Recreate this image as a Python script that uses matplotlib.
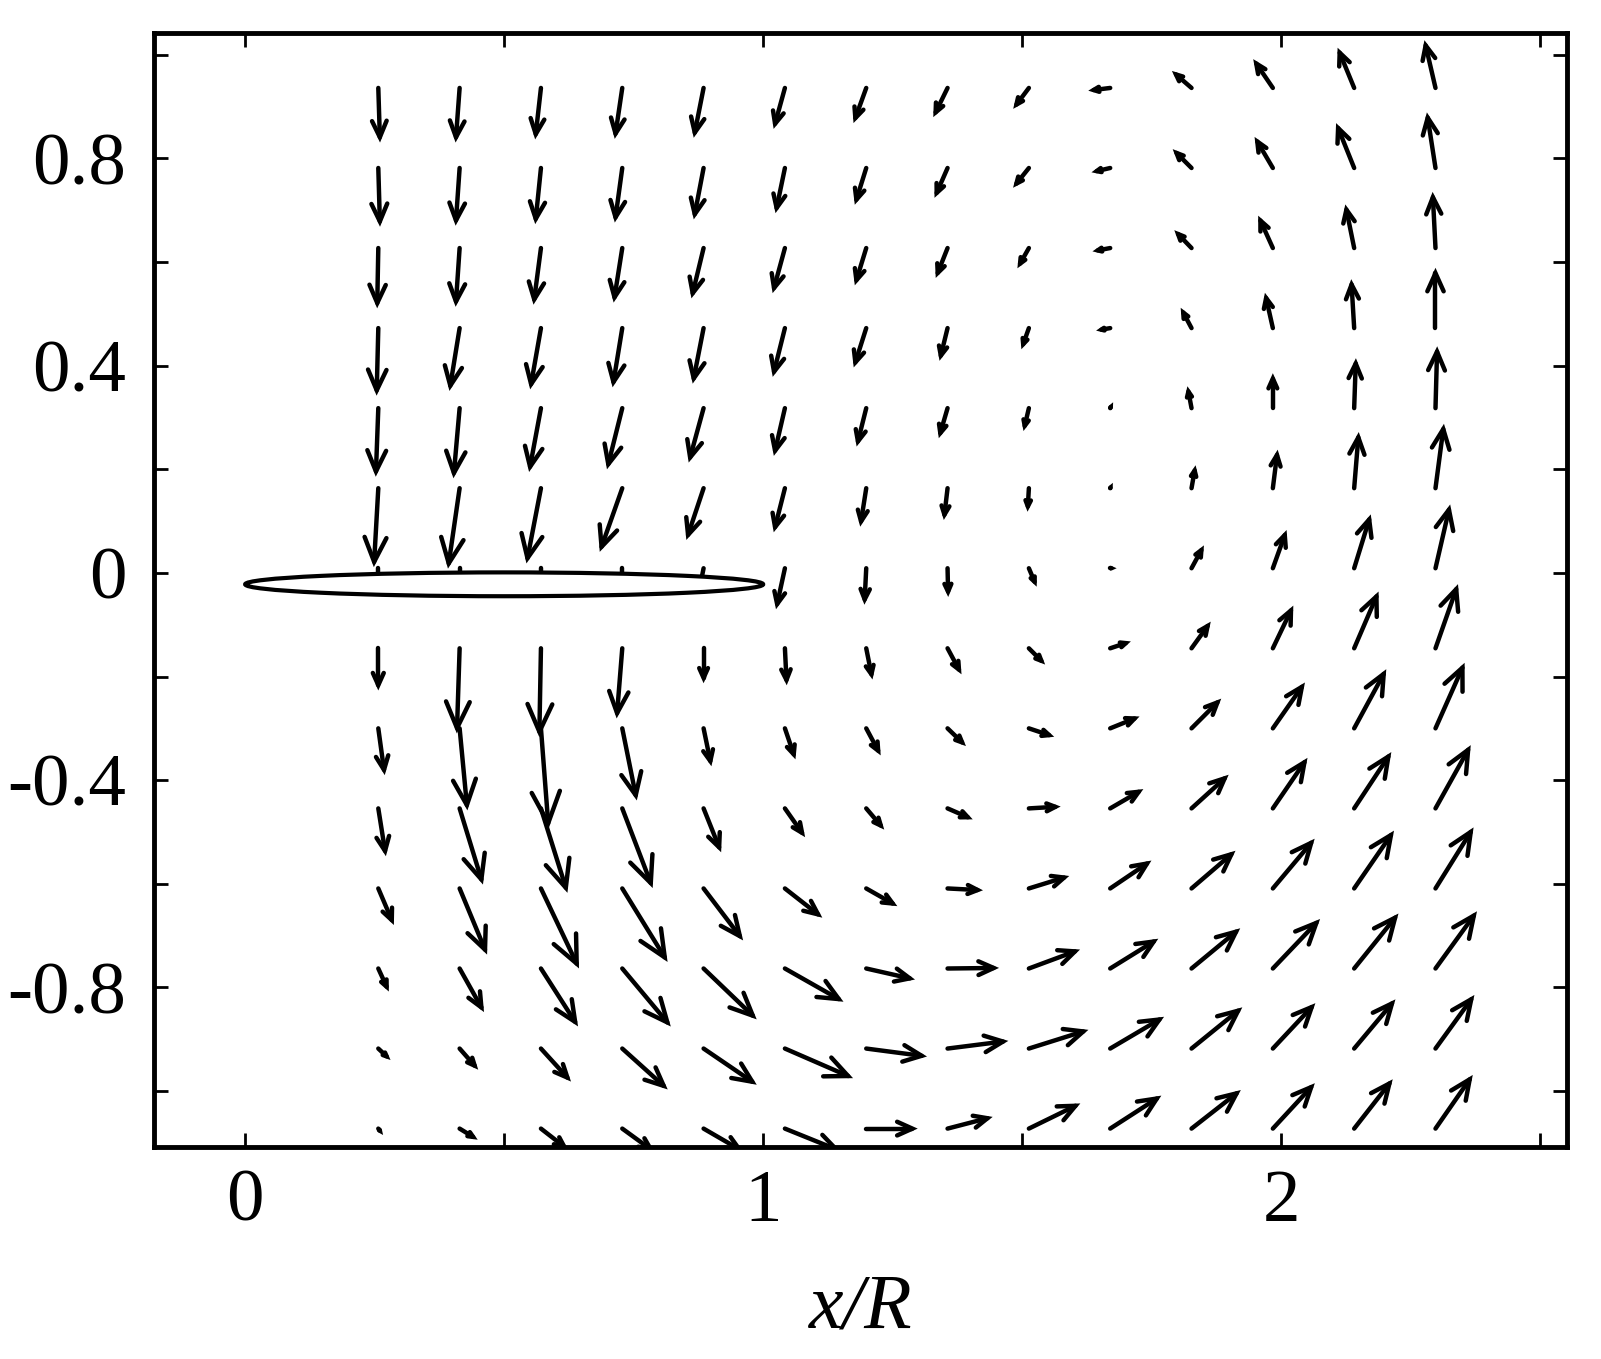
import numpy as np
import matplotlib
matplotlib.use("Agg")
import matplotlib.pyplot as plt
from matplotlib.collections import LineCollection
from matplotlib.patches import Ellipse

plt.rcParams["font.family"] = ["Liberation Serif", "DejaVu Serif"]

# grid of arrow tails (x/R, y/R)
x_grid = [0.257, 0.414, 0.571, 0.728, 0.885, 1.042, 1.199,
          1.356, 1.513, 1.670, 1.827, 1.984, 2.141, 2.298]
y_grid = [0.936, 0.7815, 0.627, 0.4725, 0.318, 0.1635, 0.009,
          -0.1455, -0.300, -0.4545, -0.609, -0.7635, -0.918, -1.0725]

# arrow components (rows top -> bottom)
u_rows = [
    [0.003, -0.007, -0.010, -0.013, -0.017, -0.019, -0.021, -0.023, -0.024, -0.032, -0.030, -0.032, -0.028, -0.019],
    [0.003, -0.007, -0.010, -0.013, -0.017, -0.016, -0.019, -0.021, -0.024, -0.026, -0.029, -0.030, -0.031, -0.015],
    [-0.002, -0.007, -0.013, -0.015, -0.021, -0.021, -0.019, -0.019, -0.017, -0.024, -0.026, -0.024, -0.015, -0.005],
    [-0.003, -0.018, -0.019, -0.017, -0.019, -0.021, -0.021, -0.013, -0.011, -0.017, -0.016, -0.013, -0.005, 0.000],
    [-0.0045, -0.011, -0.021, -0.027, -0.026, -0.019, -0.016, -0.014, -0.008, 0.001, -0.006, 0.000, 0.003, 0.003],
    [-0.008, -0.021, -0.026, -0.040, -0.030, -0.019, -0.010, -0.006, -0.002, 0.0005, 0.006, 0.008, 0.008, 0.015],
    [0.000, 0.000, 0.000, 0.000, -0.006, -0.015, -0.003, 0.001, 0.011, 0.002, 0.019, 0.023, 0.029, 0.026],
    [0.000, -0.005, -0.003, -0.010, 0.000, 0.003, 0.010, 0.022, 0.024, 0.030, 0.031, 0.035, 0.043, 0.040],
    [0.011, 0.014, 0.014, 0.026, 0.013, 0.017, 0.023, 0.028, 0.039, 0.047, 0.050, 0.056, 0.057, 0.052],
    [0.013, 0.042, 0.048, 0.055, 0.030, 0.033, 0.028, 0.039, 0.051, 0.055, 0.064, 0.061, 0.066, 0.063],
    [0.026, 0.049, 0.069, 0.082, 0.070, 0.064, 0.051, 0.058, 0.068, 0.071, 0.077, 0.074, 0.071, 0.068],
    [0.016, 0.042, 0.066, 0.087, 0.095, 0.104, 0.084, 0.089, 0.089, 0.084, 0.086, 0.084, 0.079, 0.074],
    [0.016, 0.029, 0.051, 0.080, 0.094, 0.122, 0.107, 0.107, 0.105, 0.095, 0.090, 0.075, 0.073, 0.069],
    [0.003, 0.026, 0.045, 0.055, 0.069, 0.099, 0.089, 0.077, 0.090, 0.090, 0.087, 0.074, 0.068, 0.066],
]
v_rows = [
    [-0.095, -0.095, -0.089, -0.088, -0.086, -0.069, -0.058, -0.047, -0.032, -0.004, 0.026, 0.047, 0.068, 0.082],
    [-0.103, -0.101, -0.098, -0.095, -0.089, -0.077, -0.061, -0.048, -0.030, -0.006, 0.029, 0.051, 0.077, 0.097],
    [-0.106, -0.103, -0.099, -0.095, -0.087, -0.077, -0.062, -0.048, -0.030, -0.0045, 0.027, 0.053, 0.074, 0.098],
    [-0.120, -0.111, -0.108, -0.104, -0.097, -0.084, -0.066, -0.053, -0.031, -0.003, 0.030, 0.058, 0.084, 0.106],
    [-0.122, -0.125, -0.113, -0.108, -0.095, -0.082, -0.064, -0.048, -0.034, 0.002, 0.032, 0.057, 0.086, 0.109],
    [-0.142, -0.145, -0.135, -0.113, -0.090, -0.075, -0.064, -0.051, -0.035, 0.001, 0.034, 0.064, 0.098, 0.114],
    [-0.035, -0.035, -0.035, -0.035, -0.030, -0.069, -0.060, -0.045, -0.026, 0.000, 0.035, 0.064, 0.094, 0.113],
    [-0.071, -0.154, -0.161, -0.125, -0.057, -0.061, -0.050, -0.041, -0.024, 0.010, 0.043, 0.073, 0.100, 0.114],
    [-0.080, -0.148, -0.183, -0.129, -0.063, -0.050, -0.043, -0.027, -0.013, 0.019, 0.050, 0.080, 0.105, 0.117],
    [-0.082, -0.137, -0.153, -0.144, -0.075, -0.047, -0.033, -0.017, 0.003, 0.032, 0.058, 0.089, 0.100, 0.113],
    [-0.061, -0.118, -0.145, -0.133, -0.092, -0.050, -0.029, -0.003, 0.021, 0.048, 0.066, 0.088, 0.103, 0.109],
    [-0.035, -0.075, -0.103, -0.104, -0.091, -0.059, -0.019, 0.001, 0.033, 0.052, 0.071, 0.088, 0.098, 0.102],
    [-0.015, -0.033, -0.056, -0.072, -0.064, -0.053, -0.014, 0.0135, 0.033, 0.056, 0.073, 0.080, 0.087, 0.095],
    [-0.004, -0.016, -0.035, -0.040, -0.040, -0.040, 0.000, 0.020, 0.044, 0.058, 0.068, 0.080, 0.087, 0.095],
]

# disk (flat ellipse) from x=0 to x=1
disk_center = (0.5, -0.022)
disk_width = 1.0
disk_height = 0.046

x_ticks = [0, 0.5, 1, 1.5, 2, 2.5]
x_ticklabels = ["0", "", "1", "", "2", ""]
y_ticks = [-1.0, -0.8, -0.6, -0.4, -0.2, 0, 0.2, 0.4, 0.6, 0.8, 1.0]
y_ticklabels = ["", "-0.8", "", "-0.4", "", "0", "", "0.4", "", "0.8", ""]

fig = plt.figure(figsize=(16.01, 13.59), dpi=100)
ax = fig.add_axes([0.0962, 0.156, 0.8826, 0.8197])

# matlab style arrows: shaft + open head scaled with length
X, Y = np.meshgrid(x_grid, y_grid)
U = np.array(u_rows)
V = np.array(v_rows)
alpha, beta = 0.33, 0.45
segs = []
for x0, y0, u, v in zip(X.ravel(), Y.ravel(), U.ravel(), V.ravel()):
    tx, ty = x0 + u, y0 + v
    segs.append([(x0, y0), (tx, ty)])
    segs.append([(tx - alpha * (u + beta * v), ty - alpha * (v - beta * u)),
                 (tx, ty),
                 (tx - alpha * (u - beta * v), ty - alpha * (v + beta * u))])
lc = LineCollection(segs, colors="black", linewidths=3.2, capstyle="round",
                    joinstyle="miter", zorder=2)
ax.add_collection(lc)

ax.add_patch(Ellipse(disk_center, disk_width, disk_height, facecolor="white",
                     edgecolor="black", linewidth=3.0, zorder=3))

ax.set_xlim(-0.176, 2.552)
ax.set_ylim(-1.108, 1.042)
ax.set_xticks(x_ticks)
ax.set_xticklabels(x_ticklabels)
ax.set_yticks(y_ticks)
ax.set_yticklabels(y_ticklabels)
ax.tick_params(direction="in", length=10, width=2, labelsize=54,
               top=True, right=True)
ax.tick_params(axis="x", pad=16)
ax.tick_params(axis="y", pad=20)
for s in ax.spines.values():
    s.set_linewidth(3.5)
ax.set_xlabel("x/R", fontsize=56, fontstyle="italic", labelpad=26)

fig.savefig("out.png", dpi=100)
